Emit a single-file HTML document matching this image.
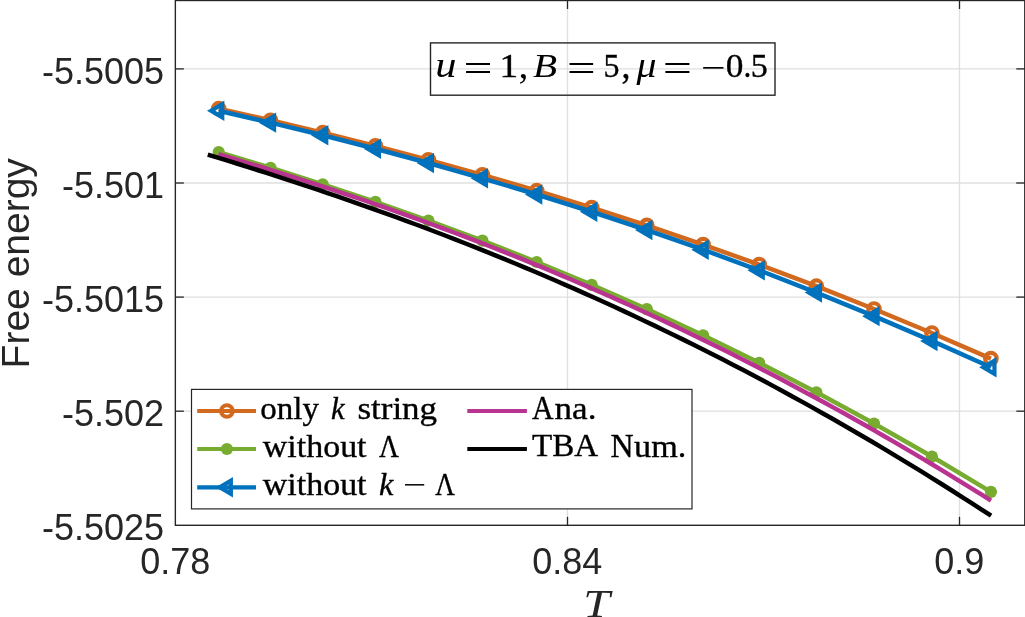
<!DOCTYPE html><html><head><meta charset="utf-8"><title>plot</title><style>html,body{margin:0;padding:0;background:#fff}svg{display:block}text{font-family:"Liberation Sans",sans-serif;fill:#262626}.s{font-family:"Liberation Serif",serif;fill:#000;stroke:#000;stroke-width:0.35px}</style></head><body>
<svg width="1025" height="617" viewBox="0 0 1025 617">
<rect width="1025" height="617" fill="#fff"/>
<line x1="175.35" y1="68.9" x2="1024.8" y2="68.9" stroke="#dfdfdf" stroke-width="1.3"/>
<line x1="175.35" y1="183" x2="1024.8" y2="183" stroke="#dfdfdf" stroke-width="1.3"/>
<line x1="175.35" y1="297.1" x2="1024.8" y2="297.1" stroke="#dfdfdf" stroke-width="1.3"/>
<line x1="175.35" y1="411.2" x2="1024.8" y2="411.2" stroke="#dfdfdf" stroke-width="1.3"/>
<line x1="567.5" y1="0.5" x2="567.5" y2="525.3" stroke="#dfdfdf" stroke-width="1.3"/>
<line x1="959.5" y1="0.5" x2="959.5" y2="525.3" stroke="#dfdfdf" stroke-width="1.3"/>
<rect x="175.35" y="0.5" width="849.4499999999999" height="524.8" fill="none" stroke="#262626" stroke-width="1.4"/>
<line x1="175.35" y1="68.9" x2="183.85" y2="68.9" stroke="#262626" stroke-width="1.3"/>
<line x1="1024.8" y1="68.9" x2="1016.3" y2="68.9" stroke="#262626" stroke-width="1.3"/>
<line x1="175.35" y1="183" x2="183.85" y2="183" stroke="#262626" stroke-width="1.3"/>
<line x1="1024.8" y1="183" x2="1016.3" y2="183" stroke="#262626" stroke-width="1.3"/>
<line x1="175.35" y1="297.1" x2="183.85" y2="297.1" stroke="#262626" stroke-width="1.3"/>
<line x1="1024.8" y1="297.1" x2="1016.3" y2="297.1" stroke="#262626" stroke-width="1.3"/>
<line x1="175.35" y1="411.2" x2="183.85" y2="411.2" stroke="#262626" stroke-width="1.3"/>
<line x1="1024.8" y1="411.2" x2="1016.3" y2="411.2" stroke="#262626" stroke-width="1.3"/>
<line x1="567.5" y1="525.3" x2="567.5" y2="516.8" stroke="#262626" stroke-width="1.3"/>
<line x1="567.5" y1="0.5" x2="567.5" y2="9.0" stroke="#262626" stroke-width="1.3"/>
<line x1="959.5" y1="525.3" x2="959.5" y2="516.8" stroke="#262626" stroke-width="1.3"/>
<line x1="959.5" y1="0.5" x2="959.5" y2="9.0" stroke="#262626" stroke-width="1.3"/>
<text x="164" y="83.60000000000001" font-size="36" text-anchor="end">-5.5005</text>
<text x="164" y="197.7" font-size="36" text-anchor="end">-5.501</text>
<text x="164" y="311.8" font-size="36" text-anchor="end">-5.5015</text>
<text x="164" y="425.9" font-size="36" text-anchor="end">-5.502</text>
<text x="164" y="540.0" font-size="36" text-anchor="end">-5.5025</text>
<text x="175.2" y="573.6" font-size="36" text-anchor="middle">0.78</text>
<text x="567.2" y="573.6" font-size="36" text-anchor="middle">0.84</text>
<text x="959.2" y="573.6" font-size="36" text-anchor="middle">0.9</text>
<text transform="translate(28.8,368.4) rotate(-90)" font-size="39">Free energy</text>
<polyline points="218.70,108.71 270.50,120.32 322.70,132.70 375.40,145.90 428.40,159.87 482.40,174.85 536.70,190.70 591.70,207.59 646.80,225.40 703.10,244.56 759.20,264.65 816.40,286.19 874.00,308.99 931.90,333.02 990.90,358.63" fill="none" stroke="#D1691F" stroke-width="4.5" stroke-linejoin="round"/>
<circle cx="218.70" cy="108.71" r="5.75" fill="none" stroke="#D1691F" stroke-width="4.2"/>
<circle cx="270.50" cy="120.32" r="5.75" fill="none" stroke="#D1691F" stroke-width="4.2"/>
<circle cx="322.70" cy="132.70" r="5.75" fill="none" stroke="#D1691F" stroke-width="4.2"/>
<circle cx="375.40" cy="145.90" r="5.75" fill="none" stroke="#D1691F" stroke-width="4.2"/>
<circle cx="428.40" cy="159.87" r="5.75" fill="none" stroke="#D1691F" stroke-width="4.2"/>
<circle cx="482.40" cy="174.85" r="5.75" fill="none" stroke="#D1691F" stroke-width="4.2"/>
<circle cx="536.70" cy="190.70" r="5.75" fill="none" stroke="#D1691F" stroke-width="4.2"/>
<circle cx="591.70" cy="207.59" r="5.75" fill="none" stroke="#D1691F" stroke-width="4.2"/>
<circle cx="646.80" cy="225.40" r="5.75" fill="none" stroke="#D1691F" stroke-width="4.2"/>
<circle cx="703.10" cy="244.56" r="5.75" fill="none" stroke="#D1691F" stroke-width="4.2"/>
<circle cx="759.20" cy="264.65" r="5.75" fill="none" stroke="#D1691F" stroke-width="4.2"/>
<circle cx="816.40" cy="286.19" r="5.75" fill="none" stroke="#D1691F" stroke-width="4.2"/>
<circle cx="874.00" cy="308.99" r="5.75" fill="none" stroke="#D1691F" stroke-width="4.2"/>
<circle cx="931.90" cy="333.02" r="5.75" fill="none" stroke="#D1691F" stroke-width="4.2"/>
<circle cx="990.90" cy="358.63" r="5.75" fill="none" stroke="#D1691F" stroke-width="4.2"/>
<polyline points="218.70,152.06 270.50,167.74 322.70,184.30 375.40,201.88 428.40,220.53 482.40,240.62 536.70,261.99 591.70,284.88 646.80,309.12 703.10,335.28 759.20,362.77 816.40,392.29 874.00,423.56 931.90,456.57 990.90,491.87" fill="none" stroke="#77AC30" stroke-width="4.5" stroke-linejoin="round"/>
<circle cx="218.70" cy="152.06" r="6.1" fill="#77AC30"/>
<circle cx="270.50" cy="167.74" r="6.1" fill="#77AC30"/>
<circle cx="322.70" cy="184.30" r="6.1" fill="#77AC30"/>
<circle cx="375.40" cy="201.88" r="6.1" fill="#77AC30"/>
<circle cx="428.40" cy="220.53" r="6.1" fill="#77AC30"/>
<circle cx="482.40" cy="240.62" r="6.1" fill="#77AC30"/>
<circle cx="536.70" cy="261.99" r="6.1" fill="#77AC30"/>
<circle cx="591.70" cy="284.88" r="6.1" fill="#77AC30"/>
<circle cx="646.80" cy="309.12" r="6.1" fill="#77AC30"/>
<circle cx="703.10" cy="335.28" r="6.1" fill="#77AC30"/>
<circle cx="759.20" cy="362.77" r="6.1" fill="#77AC30"/>
<circle cx="816.40" cy="392.29" r="6.1" fill="#77AC30"/>
<circle cx="874.00" cy="423.56" r="6.1" fill="#77AC30"/>
<circle cx="931.90" cy="456.57" r="6.1" fill="#77AC30"/>
<circle cx="990.90" cy="491.87" r="6.1" fill="#77AC30"/>
<polyline points="218.70,110.79 270.50,122.65 322.70,135.29 375.40,148.76 428.40,163.01 482.40,178.30 536.70,194.48 591.70,211.75 646.80,230.00 703.10,249.68 759.20,270.37 816.40,292.59 874.00,316.14 931.90,340.93 990.90,367.27" fill="none" stroke="#0072BD" stroke-width="4.5" stroke-linejoin="round"/>
<path d="M211.10,110.79 L222.25,104.24 L222.25,117.34 Z" fill="none" stroke="#0072BD" stroke-width="4.2" stroke-linejoin="miter"/>
<path d="M262.90,122.65 L274.05,116.10 L274.05,129.20 Z" fill="none" stroke="#0072BD" stroke-width="4.2" stroke-linejoin="miter"/>
<path d="M315.10,135.29 L326.25,128.74 L326.25,141.84 Z" fill="none" stroke="#0072BD" stroke-width="4.2" stroke-linejoin="miter"/>
<path d="M367.80,148.76 L378.95,142.21 L378.95,155.31 Z" fill="none" stroke="#0072BD" stroke-width="4.2" stroke-linejoin="miter"/>
<path d="M420.80,163.01 L431.95,156.46 L431.95,169.56 Z" fill="none" stroke="#0072BD" stroke-width="4.2" stroke-linejoin="miter"/>
<path d="M474.80,178.30 L485.95,171.75 L485.95,184.85 Z" fill="none" stroke="#0072BD" stroke-width="4.2" stroke-linejoin="miter"/>
<path d="M529.10,194.48 L540.25,187.93 L540.25,201.03 Z" fill="none" stroke="#0072BD" stroke-width="4.2" stroke-linejoin="miter"/>
<path d="M584.10,211.75 L595.25,205.20 L595.25,218.30 Z" fill="none" stroke="#0072BD" stroke-width="4.2" stroke-linejoin="miter"/>
<path d="M639.20,230.00 L650.35,223.45 L650.35,236.55 Z" fill="none" stroke="#0072BD" stroke-width="4.2" stroke-linejoin="miter"/>
<path d="M695.50,249.68 L706.65,243.13 L706.65,256.23 Z" fill="none" stroke="#0072BD" stroke-width="4.2" stroke-linejoin="miter"/>
<path d="M751.60,270.37 L762.75,263.82 L762.75,276.92 Z" fill="none" stroke="#0072BD" stroke-width="4.2" stroke-linejoin="miter"/>
<path d="M808.80,292.59 L819.95,286.04 L819.95,299.14 Z" fill="none" stroke="#0072BD" stroke-width="4.2" stroke-linejoin="miter"/>
<path d="M866.40,316.14 L877.55,309.59 L877.55,322.69 Z" fill="none" stroke="#0072BD" stroke-width="4.2" stroke-linejoin="miter"/>
<path d="M924.30,340.93 L935.45,334.38 L935.45,347.48 Z" fill="none" stroke="#0072BD" stroke-width="4.2" stroke-linejoin="miter"/>
<path d="M983.30,367.27 L994.45,360.72 L994.45,373.82 Z" fill="none" stroke="#0072BD" stroke-width="4.2" stroke-linejoin="miter"/>
<polyline points="218.50,154.27 228.28,157.16 238.06,160.09 247.84,163.03 257.61,166.01 267.39,169.01 277.17,172.05 286.95,175.11 296.73,178.20 306.51,181.32 316.28,184.47 326.06,187.66 335.84,190.88 345.62,194.13 355.40,197.42 365.18,200.74 374.96,204.09 384.73,207.48 394.51,210.91 404.29,214.37 414.07,217.87 423.85,221.41 433.63,224.99 443.41,228.60 453.18,232.25 462.96,235.95 472.74,239.68 482.52,243.45 492.30,247.26 502.08,251.12 511.85,255.01 521.63,258.95 531.41,262.93 541.19,266.95 550.97,271.01 560.75,275.11 570.53,279.26 580.30,283.45 590.08,287.68 599.86,291.96 609.64,296.28 619.42,300.65 629.20,305.05 638.97,309.51 648.75,314.01 658.53,318.55 668.31,323.14 678.09,327.77 687.87,332.45 697.65,337.17 707.42,341.94 717.20,346.75 726.98,351.61 736.76,356.52 746.54,361.47 756.32,366.47 766.09,371.52 775.87,376.61 785.65,381.75 795.43,386.93 805.21,392.16 814.99,397.44 824.77,402.77 834.54,408.14 844.32,413.56 854.10,419.03 863.88,424.54 873.66,430.10 883.44,435.71 893.22,441.37 902.99,447.08 912.77,452.83 922.55,458.63 932.33,464.48 942.11,470.38 951.89,476.33 961.66,482.32 971.44,488.36 981.22,494.46 991.00,500.60" fill="none" stroke="#B93391" stroke-width="4.5"/>
<polyline points="207.80,154.58 217.72,157.61 227.63,160.67 237.55,163.75 247.46,166.86 257.38,170.00 267.29,173.16 277.21,176.36 287.12,179.58 297.04,182.83 306.95,186.12 316.87,189.43 326.78,192.78 336.70,196.17 346.61,199.58 356.53,203.04 366.44,206.52 376.36,210.05 386.27,213.61 396.19,217.20 406.10,220.84 416.02,224.51 425.93,228.23 435.85,231.98 445.76,235.77 455.68,239.61 465.59,243.48 475.51,247.39 485.43,251.35 495.34,255.35 505.26,259.39 515.17,263.48 525.09,267.61 535.00,271.78 544.92,276.00 554.83,280.26 564.75,284.57 574.66,288.92 584.58,293.32 594.49,297.76 604.41,302.25 614.32,306.79 624.24,311.37 634.15,316.00 644.07,320.68 653.98,325.40 663.90,330.18 673.81,335.00 683.73,339.86 693.64,344.78 703.56,349.75 713.47,354.76 723.39,359.83 733.31,364.94 743.22,370.10 753.14,375.31 763.05,380.57 772.97,385.89 782.88,391.25 792.80,396.66 802.71,402.12 812.63,407.64 822.54,413.20 832.46,418.81 842.37,424.48 852.29,430.20 862.20,435.97 872.12,441.79 882.03,447.66 891.95,453.59 901.86,459.56 911.78,465.59 921.69,471.67 931.61,477.81 941.52,483.99 951.44,490.23 961.35,496.53 971.27,502.88 981.18,509.28 991.10,515.73" fill="none" stroke="#000" stroke-width="4.5"/>
<rect x="430.5" y="42.9" width="344.5" height="52.3" fill="none" stroke="#262626" stroke-width="1.4"/>
<rect x="191.5" y="389.4" width="500.5" height="119.5" fill="#fff" stroke="#262626" stroke-width="1.2"/>
<line x1="197.2" x2="256" y1="411.0" y2="411.0" stroke="#D1691F" stroke-width="4.2"/><circle cx="226.9" cy="411.0" r="5.75" fill="none" stroke="#D1691F" stroke-width="4.2"/>
<line x1="197.2" x2="256" y1="449.0" y2="449.0" stroke="#77AC30" stroke-width="4.2"/><circle cx="226.9" cy="449.0" r="6.1" fill="#77AC30"/>
<line x1="197.2" x2="256" y1="487.3" y2="487.3" stroke="#0072BD" stroke-width="4.2"/><path d="M219.70,487.30 L230.85,480.75 L230.85,493.85 Z" fill="none" stroke="#0072BD" stroke-width="4.2" stroke-linejoin="miter"/>
<line x1="467.3" x2="526.9" y1="411.0" y2="411.0" stroke="#B93391" stroke-width="4.2"/>
<line x1="467.3" x2="526.9" y1="449.0" y2="449.0" stroke="#000" stroke-width="4.2"/>
<text class="s" transform="translate(435.31,77.23) scale(1.2406,1.0745)" font-size="34.2" font-style="italic" style="stroke:none">u</text>
<text class="s" transform="translate(463.49,80.59) scale(1.5033,1.0788)" font-size="34.2" style="stroke:none">=</text>
<text class="s" transform="translate(499.38,77.10) scale(1.0916,1.0000)" font-size="34.2">1</text>
<text class="s" transform="translate(518.56,77.50) scale(1.1602,1.1228)" font-size="34.2" style="stroke:none">,</text>
<text class="s" transform="translate(533.00,77.10) scale(1.1524,1.0000)" font-size="34.2" font-style="italic" style="stroke:none">B</text>
<text class="s" transform="translate(567.02,80.59) scale(1.4846,1.0788)" font-size="34.2" style="stroke:none">=</text>
<text class="s" transform="translate(603.40,77.10) scale(0.9357,1.0000)" font-size="34.2">5</text>
<text class="s" transform="translate(621.38,77.50) scale(1.0480,1.1228)" font-size="34.2">,</text>
<text class="s" transform="translate(636.62,76.50) scale(1.1651,1.0292)" font-size="34.2" font-style="italic" style="stroke:none">μ</text>
<text class="s" transform="translate(662.87,80.59) scale(1.5158,1.0788)" font-size="34.2" style="stroke:none">=</text>
<text class="s" transform="translate(701.25,79.47) scale(1.2788,0.9825)" font-size="34.2" style="stroke:none">−</text>
<text class="s" transform="translate(725.69,77.10) scale(1.0359,1.0000)" font-size="34.2">0</text>
<text class="s" transform="translate(743.45,77.10) scale(0.9123,1.0000)" font-size="34.2">.</text>
<text class="s" transform="translate(750.80,77.10) scale(0.9981,1.0000)" font-size="34.2">5</text>
<text class="s" transform="translate(260.27,418.70) scale(1.0742,1.0000)" font-size="30.7">only</text>
<text class="s" transform="translate(331.12,418.70) scale(0.9992,1.0000)" font-size="30.7" font-style="italic">k</text>
<text class="s" transform="translate(357.41,418.70) scale(1.1403,1.0000)" font-size="30.7">string</text>
<text class="s" transform="translate(262.80,456.60) scale(1.1063,1.0000)" font-size="30.7">without</text>
<text class="s" transform="translate(379.00,456.70) scale(0.8973,1.0520)" font-size="30.7">Λ</text>
<text class="s" transform="translate(262.80,494.60) scale(1.1063,1.0000)" font-size="30.7">without</text>
<text class="s" transform="translate(379.09,494.60) scale(1.0567,1.0000)" font-size="30.7" font-style="italic">k</text>
<text class="s" transform="translate(402.66,494.60) scale(1.3481,1.0000)" font-size="30.7" style="stroke:none">−</text>
<text class="s" transform="translate(435.30,494.70) scale(0.8837,1.0520)" font-size="30.7">Λ</text>
<text class="s" transform="translate(532.00,418.60) scale(0.9744,1.0908)" font-size="30.7">A</text>
<text class="s" transform="translate(554.55,418.70) scale(1.1444,1.0000)" font-size="30.7">na.</text>
<text class="s" transform="translate(531.98,456.21) scale(1.0770,1.0234)" font-size="30.7">TBA</text>
<text class="s" transform="translate(610.40,456.80) scale(1.0423,1.0721)" font-size="30.7">N</text>
<text class="s" transform="translate(634.10,456.60) scale(1.1137,1.0000)" font-size="30.7">um.</text>
<text class="s" transform="translate(583.21,617.00) scale(1.1808,1.0000)" font-size="40.5" font-style="italic" style="fill:#262626;stroke:none">T</text>
</svg></body></html>
